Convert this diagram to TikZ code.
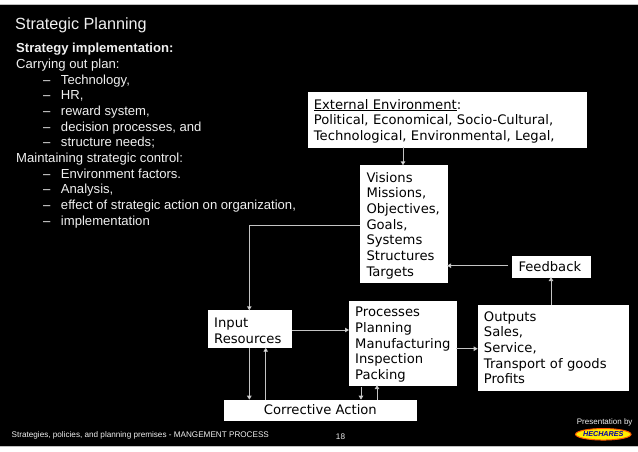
\documentclass[tikz,border=0pt]{standalone}
\usepackage{fontspec}
\setmainfont{Liberation Sans}
\newfontfamily\boxfont{DejaVu Sans}
\usetikzlibrary{arrows.meta,calc,shapes.geometric}
\definecolor{linegrey}{HTML}{C4C4C4}
\definecolor{bodywhite}{HTML}{F0F0F0}
\tikzset{
  x=1pt,y=-1pt,
  boxnode/.style={draw=white,line width=0.4pt,fill=white,text=black,anchor=north west,inner ysep=0pt,inner xsep=6pt,align=left,
    font=\boxfont\fontsize{13.15}{15.7}\selectfont},
  link/.style={draw=linegrey,line width=0.9pt,-{Triangle[length=4pt,width=4.5pt,fill=white]}},
  plain/.style={anchor=west,inner sep=0pt,text=bodywhite},
}
\newcommand{\dashitem}{\hspace*{27pt}–\hspace{10.5pt}}
\newcommand{\dropfirst}{\rule{0pt}{13.2pt}}
\begin{document}
\begin{tikzpicture}
\useasboundingbox (0,0) rectangle (638,451);
\fill[white] (0,0) rectangle (638,451);
\fill[black] (0,4.3) rectangle (638,445.6);
\fill[lightgray] (0,445.6) rectangle (638,447);
\fill[lightgray] (0,3.5) rectangle (638,4.3);
% Left text
\node[plain,font=\fontsize{16.2}{20}\selectfont] (title) at (15,25) {Strategic Planning};
\node[plain,anchor=north west,align=left,font=\fontsize{13.1}{15.7}\selectfont] (list) at (16,43) {%
  \textbf{Strategy implementation:}\\
  Carrying out plan:\\
  \dashitem Technology,\\
  \dashitem HR,\\
  \dashitem reward system,\\
  \dashitem decision processes, and\\
  \dashitem structure needs;\\
  Maintaining strategic control:\\
  \dashitem Environment factors.\\
  \dashitem Analysis,\\
  \dashitem effect of strategic action on organization,\\
  \dashitem implementation};
% Boxes
\node[boxnode,minimum width=278pt,minimum height=54.7pt,text width=266pt] (ext) at (307.7,92)
  {\dropfirst\underline{External Environment}:\\Political, Economical, Socio-Cultural,\\Technological, Environmental, Legal,};
\node[boxnode,minimum width=86.4pt,minimum height=117pt,text width=74.4pt] (vis) at (360.3,165.3)
  {\dropfirst Visions\\Missions,\\Objectives,\\Goals,\\Systems\\Structures\\Targets};
\node[boxnode,minimum width=77.4pt,minimum height=20.4pt,text width=65.4pt] (fb) at (512.3,256.3)
  {Feedback};
\node[boxnode,minimum width=83.3pt,minimum height=37pt,text width=71.3pt] (inp) at (208,310.3)
  {\dropfirst Input\\Resources};
\node[boxnode,minimum width=107pt,minimum height=83.7pt,text width=95pt] (proc) at (349,301)
  {\dropfirst Processes\\Planning\\Manufacturing\\Inspection\\Packing};
\node[boxnode,minimum width=150.6pt,minimum height=85.6pt,text width=138.6pt] (out) at (477.7,304.7)
  {Outputs\\Sales,\\Service,\\Transport of goods\\Profits};
\node[boxnode,minimum width=191.7pt,minimum height=20pt,align=center] (cor) at (224.3,399.7)
  {Corrective Action};
% Free ends / routing points
\coordinate (corner) at (249.3,225);
\coordinate (fbstart) at (508,265.7);
\coordinate (procgapA) at (361,387);
\coordinate (procgapB) at (377,399.7);
% Connectors
\draw[link] (ext.south -| 403,0) -- (vis.north -| 403,0);
\draw[link] (vis.west |- corner) -- (corner) -- (inp.north -| corner);
\draw[link] (fbstart) -- (vis.east |- fbstart);
\draw[link] (out.north -| 551,0) -- (fb.south -| 551,0);
\draw[link] (inp.east |- 0,330) -- (proc.west |- 0,330);
\draw[link] (proc.east |- 0,348.7) -- (out.west |- 0,348.7);
\draw[link] (inp.south -| corner) -- (cor.north -| corner);
\draw[link] (cor.north -| 265.7,0) -- (inp.south -| 265.7,0);
\draw[link] (procgapA) -- (cor.north -| procgapA);
\draw[link] (procgapB) -- (proc.south -| procgapB);
% Footer
\node[plain,font=\fontsize{8.15}{10}\selectfont] (foot) at (11.5,435.3) {Strategies, policies, and planning premises - MANGEMENT PROCESS};
\node[plain,anchor=center,font=\fontsize{8.15}{10}\selectfont] (page) at (340.5,436.5) {18};
\node[plain,anchor=center,font=\fontsize{8}{10}\selectfont] (pres) at (604.7,422) {Presentation by};
\node[draw=orange!70!red,line width=1pt,fill=yellow!95!orange,ellipse,minimum width=55.5pt,minimum height=11.5pt,inner sep=0pt] (logo) at (603.3,434.3) {};
\node[inner sep=0pt,text=blue!65!black,font=\fontsize{7.2}{9}\selectfont\bfseries\itshape] (logotext) at (logo.center) {HECHARES};
\end{tikzpicture}
\end{document}
